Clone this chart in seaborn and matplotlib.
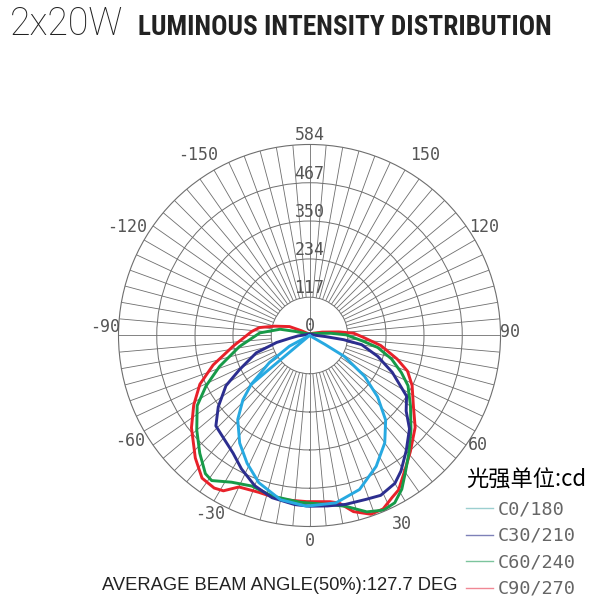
import numpy as np
import pandas as pd
import matplotlib
matplotlib.use("Agg")
import matplotlib.pyplot as plt
from matplotlib import font_manager
from matplotlib.font_manager import FontProperties
from matplotlib.lines import Line2D
import seaborn as sns

# --- données (angle en degrés, intensité en cd) ---
c0_deg = [-72, -62, -56, -50, -46, -40.5, -33, -26, -19, -10, -1, 9, 18, 27, 35, 42, 48, 53.5, 59, 60, 61]
c0_cd = [0, 69, 148, 233, 283, 338, 392, 435, 476, 510, 522, 518, 495, 449, 401, 348, 280, 209, 124, 54, 0]
c0_spike_deg = [-50, -50]
c0_spike_cd = [0, 233]

c30_deg = [-180, -130, -100, -88, -82, -78, -72, -64, -59, -52, -46, -41, -33, -27, -20, -13, -5, 0, 6,
           12, 19, 24, 30, 34, 40, 47, 52, 58, 66, 73, 80, 83, 86, 92, 130, 180]
c30_cd = [4, 6, 12, 35, 60, 103, 171, 238, 298, 354, 398, 407, 429, 458, 489, 509, 519, 522, 524,
          528, 530, 535, 522, 500, 460, 418, 375, 350, 277, 218, 162, 105, 50, 18, 6, 4]

c60_deg = [-180, -130, -106, -102, -93, -81, -71, -64, -58, -50, -43, -37, -34, -28, -21, -13, -3, 7, 12,
           18, 23, 27, 31, 35, 40, 47, 55, 63, 68, 74, 80, 84, 91, 96, 105, 130, 180]
c60_cd = [4, 8, 45, 92, 152, 217, 291, 352, 405, 450, 492, 529, 535, 508, 493, 504, 511, 521, 534,
          567, 580, 574, 548, 511, 472, 424, 377, 338, 303, 261, 212, 164, 112, 65, 25, 8, 4]

c90_deg = [-180, -140, -120, -114, -105, -99, -94, -82, -73, -66, -59, -52, -43, -37, -32, -29, -25, -18,
           -10, -1, 7, 10, 14, 19, 23, 27, 30, 36, 41, 49, 56, 64, 70, 75, 82, 88, 93, 97, 105, 130, 180]
c90_cd = [4, 8, 30, 67, 110, 155, 177, 236, 308, 367, 413, 458, 512, 546, 550, 543, 511, 504,
          509, 508, 512, 520, 555, 578, 576, 556, 545, 500, 470, 428, 383, 349, 319, 277, 220, 165, 135, 90, 40, 10, 4]

r_ticks = [117, 234, 350, 467, 584]
theta_labels = [0, 30, 60, 90, 120, 150, -150, -120, -90, -60, -30]
planes = ["C0/180", "C30/210", "C60/240", "C90/270"]
couleurs = {"C0/180": "#27a9e1", "C30/210": "#2c2e8f", "C60/240": "#179a48", "C90/270": "#e8212a"}
couleurs_legende = ["#9ccfd0", "#7e81b8", "#7cc49d", "#f08894"]

# placement des étiquettes d'angle (angle affiché, facteur de rayon)
pos_etiquettes = {0: (0, 1.076), 30: (26, 1.10), 60: (57, 1.05), 90: (91, 1.05), 120: (122, 1.075),
                  150: (147.4, 1.12), -150: (-148.3, 1.11), -120: (-120.7, 1.11), -90: (-92.5, 1.072),
                  -60: (-59.6, 1.09), -30: (-29, 1.07)}

# tableau long pour seaborn
morceaux = []
for nom, seg, deg, cd in [
    ("C90/270", 0, c90_deg, c90_cd),
    ("C60/240", 0, c60_deg, c60_cd),
    ("C30/210", 0, c30_deg, c30_cd),
    ("C0/180", 0, c0_deg, c0_cd),
    ("C0/180", 1, c0_spike_deg, c0_spike_cd),
]:
    morceaux.append(pd.DataFrame({"theta": np.deg2rad(deg), "cd": cd, "plane": nom, "seg": seg}))
df = pd.concat(morceaux, ignore_index=True)

dispo = {f.name for f in font_manager.fontManager.ttflist}
condense = next((f for f in ["Roboto Condensed", "Liberation Sans Narrow", "Open Sans Condensed"] if f in dispo),
                "Liberation Sans")
leger = "Roboto" if "Roboto" in dispo else "Liberation Sans"

fig = plt.figure(figsize=(6, 6), dpi=100)
ax = fig.add_axes([0.1975, 0.1225, 0.6367, 0.6367], projection="polar")
ax.set_theta_zero_location("S")
ax.set_theta_direction(1)

grille = "#6e6e6e"
ax.set_xticks([])
ax.set_yticks(r_ticks[:-1])
ax.set_yticklabels([])
ax.xaxis.grid(False)
ax.yaxis.grid(True, color=grille, lw=0.7)
ax.spines["polar"].set_color(grille)
ax.spines["polar"].set_linewidth(0.8)

# rayons tous les 5 degrés, hors du cercle central
ax.vlines(np.deg2rad(np.arange(0, 360, 5)), r_ticks[0], r_ticks[-1], color=grille, lw=0.6, zorder=1)
ax.vlines([0, np.pi], 0, r_ticks[0], color=grille, lw=0.6, zorder=1)

sns.lineplot(data=df, x="theta", y="cd", hue="plane", units="seg", estimator=None, sort=False,
             hue_order=["C90/270", "C60/240", "C30/210", "C0/180"], palette=couleurs,
             legend=False, lw=2.1, ax=ax)
for ln in ax.get_lines():
    ln.set_solid_joinstyle("round")
    ln.set_solid_capstyle("round")

ax.set_xlabel("")
ax.set_ylabel("")
ax.set_xlim(0, 2 * np.pi)
ax.set_ylim(0, r_ticks[-1])

mono = dict(family="DejaVu Sans Mono", color="#555555", fontsize=12)
for r in [0] + r_ticks:
    ax.text(np.pi, r, str(r), ha="center", va="bottom", **mono)
for a in theta_labels:
    ang, fac = pos_etiquettes[a]
    ax.text(np.deg2rad(ang), r_ticks[-1] * fac, str(a), ha="center", va="center", **mono)

# titre
fig.text(10 / 600, 1 - 35 / 600, "2x20W", fontsize=27, family=leger, weight="light", color="#222222",
         va="baseline")
fig.text(138 / 600, 1 - 35 / 600, "LUMINOUS INTENSITY DISTRIBUTION", fontsize=19.6, family=condense,
         weight="bold", color="#222222", va="baseline")

fig.text(102 / 600, 1 - 585 / 600, "AVERAGE BEAM ANGLE(50%):127.7 DEG", fontsize=13.2,
         family="Liberation Sans", color="#222222", va="center")

poignees = [Line2D([], [], color=c, lw=1.0) for c in couleurs_legende]
leg = fig.legend(poignees, planes, loc="upper left", bbox_to_anchor=(466 / 600, 1 - 469 / 600),
                 frameon=False, title="光强单位:cd",
                 title_fontproperties=FontProperties(family=["Noto Sans CJK SC", "DejaVu Sans"], size=16),
                 prop=FontProperties(family="DejaVu Sans Mono", size=13.3), labelcolor="#666666",
                 handlelength=1.45, handletextpad=0.25, labelspacing=0.46, borderpad=0, borderaxespad=0,
                 alignment="left")

fig.savefig("out.png", dpi=100, facecolor="white")
